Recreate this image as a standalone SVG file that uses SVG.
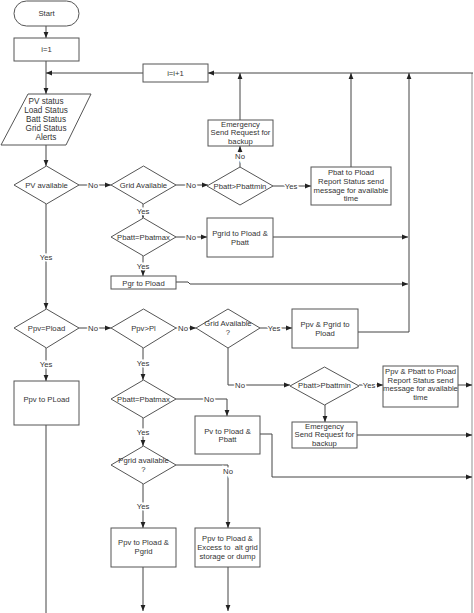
<svg xmlns="http://www.w3.org/2000/svg" width="474" height="613" viewBox="0 0 474 613">
<style>
.n rect,.n polygon{fill:#fff;stroke:#555;stroke-width:1}
text{font-family:"Liberation Sans",Arial,sans-serif;font-size:7.7px;fill:#333;text-anchor:middle}
.p text{font-size:8.2px}
.c path{fill:none;stroke:#444;stroke-width:1}
.l{paint-order:stroke;stroke:#fff;stroke-width:3px}
</style>
<defs>
<marker id="ah" viewBox="0 0 10 10" refX="10" refY="5" markerWidth="6" markerHeight="6" orient="auto" markerUnits="userSpaceOnUse"><path d="M0,1 L10,5 L0,9 z" fill="#222"/></marker>
</defs>
<rect width="474" height="613" fill="#fff"/>
<g class="c">
<path d="M472,73 V613" style="stroke:#c8c8c8;stroke-width:2"/>
<path d="M46,26 V38" marker-end="url(#ah)"/>
<path d="M46,61 V94" marker-end="url(#ah)"/>
<path d="M143,73 H46" marker-end="url(#ah)"/>
<path d="M473,73 H208" marker-end="url(#ah)"/>
<path d="M240,120 V73" marker-end="url(#ah)"/>
<path d="M351,167 V73" marker-end="url(#ah)"/>
<path d="M358,332 H409 V73" marker-end="url(#ah)"/>
<path d="M46,145 V166" marker-end="url(#ah)"/>
<path d="M79,185 H111" marker-end="url(#ah)"/>
<path d="M176,185 H208" marker-end="url(#ah)"/>
<path d="M240,167 V146" marker-end="url(#ah)"/>
<path d="M273,186 H311" marker-end="url(#ah)"/>
<path d="M143,204 V218" marker-end="url(#ah)"/>
<path d="M176,237 H207" marker-end="url(#ah)"/>
<path d="M273,237 H408" marker-end="url(#ah)"/>
<path d="M143,256 V276" marker-end="url(#ah)"/>
<path d="M176,282 H188 L190,284 H408" marker-end="url(#ah)"/>
<path d="M46,204 V309" marker-end="url(#ah)"/>
<path d="M79,328 H111" marker-end="url(#ah)"/>
<path d="M176,328 H196" marker-end="url(#ah)"/>
<path d="M260,328 H292" marker-end="url(#ah)"/>
<path d="M228,348 V385 H290" marker-end="url(#ah)"/>
<path d="M359,385 H383" marker-end="url(#ah)"/>
<path d="M458,385 H472" marker-end="url(#ah)"/>
<path d="M325,405 V422" marker-end="url(#ah)"/>
<path d="M357,435 H472" marker-end="url(#ah)"/>
<path d="M46,348 V381" marker-end="url(#ah)"/>
<path d="M46,425 V613"/>
<path d="M143,348 V380" marker-end="url(#ah)"/>
<path d="M176,399 H227 V416" marker-end="url(#ah)"/>
<path d="M260,434 H272 V477 H472" marker-end="url(#ah)"/>
<path d="M143,418 V446" marker-end="url(#ah)"/>
<path d="M176,465 H228 V528" marker-end="url(#ah)"/>
<path d="M143,484 V528" marker-end="url(#ah)"/>
<path d="M143,567 V611" marker-end="url(#ah)"/>
<path d="M228,567 V611" marker-end="url(#ah)"/>
<text class="l" x="93" y="188">No</text>
<text class="l" x="191" y="188">No</text>
<text class="l" x="240" y="159">No</text>
<text class="l" x="291" y="189">Yes</text>
<text class="l" x="143" y="214">Yes</text>
<text class="l" x="191" y="240">No</text>
<text class="l" x="143" y="269">Yes</text>
<text class="l" x="46" y="260">Yes</text>
<text class="l" x="93" y="331">No</text>
<text class="l" x="183" y="331">No</text>
<text class="l" x="274" y="331">Yes</text>
<text class="l" x="240" y="388">No</text>
<text class="l" x="369" y="388">Yes</text>
<text class="l" x="46" y="367">Yes</text>
<text class="l" x="143" y="366">Yes</text>
<text class="l" x="209" y="402">No</text>
<text class="l" x="143" y="435">Yes</text>
<text class="l" x="228" y="474">No</text>
<text class="l" x="143" y="509">Yes</text>
</g>
<g id="start" class="n"><rect x="14" y="1" width="65" height="25" rx="12.5"/><text x="46.5" y="16">Start</text></g>
<g id="init" class="n"><rect x="14" y="38" width="65" height="23"/><text x="46.5" y="52">i=1</text></g>
<g id="incr" class="n"><rect x="143" y="64" width="65" height="18"/><text x="175.5" y="76">i=i+1</text></g>
<g id="status" class="n p"><polygon points="28,94 91,94 66,145 1,145"/>
<text x="46" y="104">PV status</text><text x="46" y="113">Load Status</text><text x="46" y="122">Batt Status</text><text x="46" y="131">Grid Status</text><text x="46" y="140">Alerts</text></g>
<g id="pvavail" class="n"><polygon points="46.5,166 79,185 46.5,204 14,185"/><text x="46.5" y="188">PV available</text></g>
<g id="gridavail" class="n"><polygon points="143.5,166 176,185 143.5,204 111,185"/><text x="143.5" y="188">Grid Available</text></g>
<g id="pbattmin1" class="n"><polygon points="240,167 273,186 240,205 207,186"/><text x="240" y="189">Pbatt&gt;Pbattmin</text></g>
<g id="emerg1" class="n"><rect x="208" y="120" width="65" height="26"/><text x="240.5" y="127">Emergency</text><text x="240.5" y="135">Send Request for</text><text x="240.5" y="144">backup</text></g>
<g id="pbat" class="n"><rect x="311" y="167" width="80" height="38"/><text x="351" y="175">Pbat to Pload</text><text x="351" y="184">Report Status send</text><text x="351" y="193">message for available</text><text x="351" y="201">time</text></g>
<g id="pbattmax1" class="n"><polygon points="143.5,218 176,237 143.5,256 111,237"/><text x="143.5" y="240">Pbatt=Pbatmax</text></g>
<g id="pgrid" class="n"><rect x="207" y="218" width="66" height="39"/><text x="240" y="236">Pgrid to Pload &amp;</text><text x="240" y="245">Pbatt</text></g>
<g id="pgr" class="n"><rect x="111" y="276" width="65" height="13"/><text x="143.5" y="285.5">Pgr to Pload</text></g>
<g id="ppvpload" class="n"><polygon points="46.5,309 79,328 46.5,348 14,328"/><text x="46.5" y="331">Ppv=Pload</text></g>
<g id="ppvpl" class="n"><polygon points="143.5,309 176,328 143.5,348 111,328"/><text x="143.5" y="331">Ppv&gt;Pl</text></g>
<g id="gridq" class="n"><polygon points="228,309 260,328 228,348 196,328"/><text x="228" y="326">Grid Available</text><text x="228" y="335">?</text></g>
<g id="ppvpgrid" class="n"><rect x="292" y="309" width="66" height="39"/><text x="325" y="327">Ppv &amp; Pgrid to</text><text x="325" y="336">Pload</text></g>
<g id="pbattmin2" class="n"><polygon points="324.5,367 359,386 324.5,405 290,386"/><text x="324.5" y="388">Pbatt&gt;Pbattmin</text></g>
<g id="ppvpbatt" class="n"><rect x="383" y="366" width="75" height="41"/><text x="420.5" y="374">Ppv &amp; Pbatt to Pload</text><text x="420.5" y="383">Report Status send</text><text x="420.5" y="391">message for available</text><text x="420.5" y="400">time</text></g>
<g id="emerg2" class="n"><rect x="292" y="422" width="65" height="26"/><text x="324.5" y="429">Emergency</text><text x="324.5" y="437">Send Request for</text><text x="324.5" y="446">backup</text></g>
<g id="ppvload" class="n"><rect x="14" y="381" width="65" height="44"/><text x="46.5" y="402">Ppv to PLoad</text></g>
<g id="pbattmax2" class="n"><polygon points="143.5,380 176,399 143.5,418 111,399"/><text x="143.5" y="402">Pbatt=Pbatmax</text></g>
<g id="pvpbatt" class="n"><rect x="195" y="416" width="65" height="38"/><text x="227.5" y="434">Pv to Pload &amp;</text><text x="227.5" y="442">Pbatt</text></g>
<g id="pgridq" class="n"><polygon points="143.5,446 176,465 143.5,484 111,465"/><text x="143.5" y="463">Pgrid available</text><text x="143.5" y="472">?</text></g>
<g id="ppvpgrid2" class="n"><rect x="111" y="528" width="65" height="39"/><text x="143.5" y="545">Ppv to Pload &amp;</text><text x="143.5" y="554">Pgrid</text></g>
<g id="excess" class="n"><rect x="195" y="528" width="65" height="39"/><text x="227.5" y="541">Ppv to Pload &amp;</text><text x="227.5" y="550" xml:space="preserve">Excess to  alt grid</text><text x="227.5" y="559">storage or dump</text></g>
</svg>
